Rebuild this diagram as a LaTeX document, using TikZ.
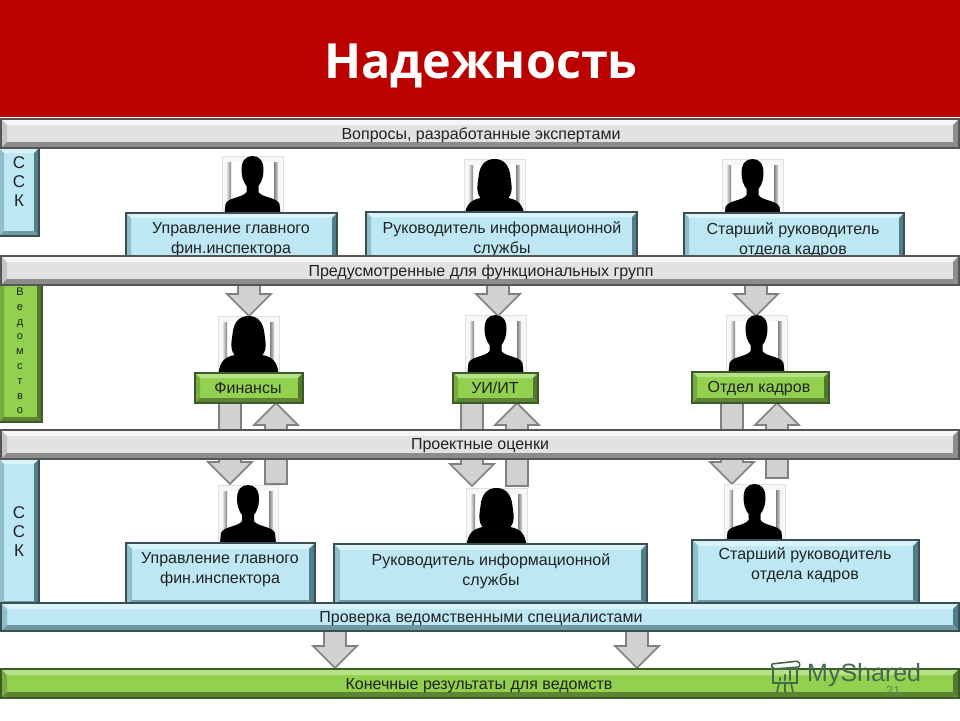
\documentclass[tikz,border=0pt]{standalone}
\usepackage{fontspec}
\setmainfont{Liberation Sans}
\newfontfamily\titlefont{Open Sans}
\usetikzlibrary{calc,backgrounds}
% palettes
\definecolor{bluF}{HTML}{BDE8F3}\definecolor{bluT}{HTML}{D9F3F8}\definecolor{bluL}{HTML}{8FBFC9}\definecolor{bluR}{HTML}{4F7F89}\definecolor{bluB}{HTML}{6E98A2}\definecolor{bluE}{HTML}{3B4F52}
\definecolor{gryF}{HTML}{E2E2E2}\definecolor{gryT}{HTML}{F6F6F6}\definecolor{gryL}{HTML}{C4C4C4}\definecolor{gryR}{HTML}{8C8C8C}\definecolor{gryB}{HTML}{8C8C8C}\definecolor{gryE}{HTML}{555555}
\definecolor{grnF}{HTML}{92D050}\definecolor{grnT}{HTML}{B5E286}\definecolor{grnL}{HTML}{78AB40}\definecolor{grnR}{HTML}{53782B}\definecolor{grnB}{HTML}{5E8431}\definecolor{grnE}{HTML}{3A5A2A}
\definecolor{headred}{HTML}{BB0000}
\definecolor{inktext}{HTML}{222222}
\definecolor{wmark}{HTML}{46694A}
\tikzset{
  x=1pt,y=-1pt,
  barlabel/.style={text=inktext,font=\fontsize{16}{18}\selectfont,align=center,inner sep=0pt},
  boxlabel/.style={text=inktext,font=\fontsize{16}{20}\selectfont,align=center,inner sep=0pt},
  sidelabel/.style={text=inktext,font=\fontsize{17}{19}\selectfont,align=center,inner sep=0pt},
  blockarrow/.style={fill=black!18,draw=black!50,line width=1.6pt,line join=miter},
  silh/.style={fill=black,draw=none},
}
% name, x1, y1, x2, y2, palette, strip width
\newcommand\bevbox[7]{%
  \pgfmathsetmacro\bw{#4-#2}\pgfmathsetmacro\bh{#5-#3}%
  \pgfmathsetmacro\bs{#7}%
  \node[draw=#6E,fill=#6F,line width=1.2pt,inner sep=0pt,outer sep=0pt,minimum width=\bw pt,minimum height=\bh pt,anchor=north west] (#1) at (#2,#3) {};
  \coordinate (#1-a) at ($(#1.north west)+(\bs,\bs)$);
  \coordinate (#1-b) at ($(#1.north east)+(-\bs,\bs)$);
  \coordinate (#1-c) at ($(#1.south east)+(-\bs,-\bs)$);
  \coordinate (#1-d) at ($(#1.south west)+(\bs,-\bs)$);
  \fill[#6T] (#1.north west)--(#1.north east)--(#1-b)--(#1-a)--cycle;
  \fill[#6L] (#1.north west)--(#1-a)--(#1-d)--(#1.south west)--cycle;
  \fill[#6R] (#1.north east)--(#1-b)--(#1-c)--(#1.south east)--cycle;
  \fill[#6B] (#1.south west)--(#1-d)--(#1-c)--(#1.south east)--cycle;
  \draw[#6E,line width=1.2pt] (#1.north west) rectangle (#1.south east);
}
% name, x1, y1, x2, y2, 0 male / 1 female
\newcommand\photo[6]{%
  \pgfmathsetmacro\bw{#4-#2}\pgfmathsetmacro\bh{#5-#3}%
  \node[draw=black!12,fill=black!3,line width=0.8pt,inner sep=0pt,outer sep=0pt,minimum width=\bw pt,minimum height=\bh pt,anchor=north west] (#1) at (#2,#3) {};
  \fill[white] ($(#1.north west)+(5,6)$) rectangle ($(#1.south east)+(-5,0)$);
  \fill[left color=black!12,right color=black!50] ($(#1.north west)+(5,6)$) rectangle ($(#1.south west)+(9,0)$);
  \fill[left color=black!50,right color=black!15] ($(#1.north east)+(-9,6)$) rectangle ($(#1.south east)+(-5,0)$);
  \begin{scope}[shift={(#1.north)}]
    \ifnum#6=0
      \fill[silh] (0,0) .. controls (7,0) and (11,5) .. (11,14)
        .. controls (11,21) and (9,26) .. (6,30) -- (6,36)
        .. controls (10,42) and (24,41) .. (27,48) -- (28,58) -- (-28,58) -- (-27,48)
        .. controls (-24,41) and (-10,42) .. (-6,36) -- (-6,30)
        .. controls (-9,26) and (-11,21) .. (-11,14) .. controls (-11,5) and (-7,0) .. (0,0) -- cycle;
    \else
      \fill[silh] (0,0) .. controls (9,0) and (15,6) .. (16,18)
        .. controls (17,27) and (19,32) .. (14,39)
        .. controls (24,41) and (29,46) .. (30,58) -- (-30,58)
        .. controls (-29,46) and (-24,41) .. (-14,39)
        .. controls (-19,32) and (-17,27) .. (-16,18) .. controls (-15,6) and (-9,0) .. (0,0) -- cycle;
    \fi
  \end{scope}
}
% from, to: block arrow between two named points
\newcommand\blockarr[2]{%
  \coordinate (hb) at ($(#2)!22pt!(#1)$);
  \draw[blockarrow] ($(#1)!11pt!90:(#2)$) -- ($(hb)!11pt!90:(#2)$) -- ($(hb)!22pt!90:(#2)$) -- (#2)
    -- ($(hb)!22pt!-90:(#2)$) -- ($(hb)!11pt!-90:(#2)$) -- ($(#1)!11pt!-90:(#2)$) -- cycle;
}
\begin{document}
\begin{tikzpicture}
\useasboundingbox (0,0) rectangle (960,720);
\fill[headred] (0,0) rectangle (960,117);
\node[text=white,font=\titlefont\bfseries\fontsize{48.5}{50}\selectfont,inner sep=0pt] (title) at (481,66) {Надежность};

% photos
\photo{pa}{222}{156}{283}{214}{0}
\photo{pb}{464}{159}{525}{213}{1}
\photo{pc}{722}{159}{783}{214}{0}
\photo{pd}{218}{316}{279}{374}{1}
\photo{pe}{465}{315}{526}{374}{0}
\photo{pf}{726}{315}{787}{373}{0}
\photo{pg}{218}{485}{278}{544}{0}
\photo{ph}{466}{488}{527}{545}{1}
\photo{pi}{724}{484}{785}{541}{0}

% upper boxes
\bevbox{ba}{126}{213}{337}{262}{blu}{5}
\bevbox{bb}{366}{212}{637}{262}{blu}{5}
\bevbox{bc}{684}{213}{904}{262}{blu}{5}
\node[boxlabel] (ta) at (231,240) {Управление главного\\фин.инспектора};
\node[boxlabel] (tb) at (502,239) {Руководитель информационной\\службы};
\node[boxlabel] (tc) at (793,240) {Старший руководитель\\отдела кадров};

% side boxes
\bevbox{sa}{-1}{148}{39}{236}{blu}{5}
\node[sidelabel] (sat) at (19,182) {С\\С\\К};
\bevbox{sb}{-1}{280}{42}{422}{grn}{5}
\node[text=inktext,font=\fontsize{11}{14.8}\selectfont,align=center,inner sep=0pt] (sbt) at (20,351) {В\\е\\д\\о\\м\\с\\т\\в\\о};
\bevbox{sc}{-1}{459}{39}{606}{blu}{5}
\node[sidelabel] (sct) at (19,532) {С\\С\\К};

% green boxes
\bevbox{ga}{195}{373}{303}{403}{grn}{5}
\bevbox{gb}{453}{373}{538}{403}{grn}{5}
\bevbox{gc}{692}{372}{829}{403}{grn}{5}
\node[barlabel] (gat) at (248,388) {Финансы};
\node[barlabel] (gbt) at (495,388) {УИ/ИТ};
\node[barlabel] (gct) at (759,389) {Отдел кадров};

% lower boxes
\bevbox{bd}{126}{543}{315}{606}{blu}{6}
\bevbox{be}{334}{544}{647}{606}{blu}{6}
\bevbox{bf}{692}{540}{919}{606}{blu}{6}
\node[boxlabel] (td) at (220,570) {Управление главного\\фин.инспектора};
\node[boxlabel] (te) at (491,571) {Руководитель информационной\\службы};
\node[boxlabel] (tf) at (805,565) {Старший руководитель\\отдела кадров};

% bars
\bevbox{r1}{1}{119}{959}{148}{gry}{6}
\bevbox{r2}{1}{256}{959}{285}{gry}{6}
\bevbox{r3}{1}{430}{959}{459}{gry}{6}
\bevbox{r4}{1}{603}{959}{631}{blu}{6}
\bevbox{r5}{1}{669}{959}{698}{grn}{6}
\node[barlabel] (r1t) at (481,135) {Вопросы, разработанные экспертами};
\node[barlabel] (r2t) at (481,272) {Предусмотренные для функциональных групп};
\node[barlabel] (r3t) at (480,446) {Проектные оценки};
\node[barlabel] (r4t) at (481,619) {Проверка ведомственными специалистами};
\node[barlabel] (r5t) at (479,686) {Конечные результаты для ведомств};

% block arrows (beneath the boxes and bars)
\begin{scope}[on background layer]
  \coordinate (a1s) at (249,285);\coordinate (a1e) at (249,316);
  \coordinate (a2s) at (498,285);\coordinate (a2e) at (498,316);
  \coordinate (a3s) at (756,285);\coordinate (a3e) at (756,316);
  \coordinate (d1s) at (230,403);\coordinate (d1e) at (230,484);
  \coordinate (u1s) at (276,484);\coordinate (u1e) at (276,403);
  \coordinate (d2s) at (472,403);\coordinate (d2e) at (472,486);
  \coordinate (u2s) at (517,486);\coordinate (u2e) at (517,403);
  \coordinate (d3s) at (732,403);\coordinate (d3e) at (732,484);
  \coordinate (u3s) at (777,478);\coordinate (u3e) at (777,403);
  \coordinate (e1s) at (335,631);\coordinate (e1e) at (335,668);
  \coordinate (e2s) at (637,631);\coordinate (e2e) at (637,668);
  \blockarr{a1s}{a1e}\blockarr{a2s}{a2e}\blockarr{a3s}{a3e}
  \blockarr{d1s}{d1e}\blockarr{u1s}{u1e}
  \blockarr{d2s}{d2e}\blockarr{u2s}{u2e}
  \blockarr{d3s}{d3e}\blockarr{u3s}{u3e}
  \blockarr{e1s}{e1e}\blockarr{e2s}{e2e}
\end{scope}

% watermark
\begin{scope}[draw=wmark,line width=1.6pt,line cap=round]
  \draw[rounded corners=2pt] (771,664) -- (799,661) -- (800,667) -- (773,669) -- cycle;
  \draw (773,669) rectangle (797,683);
  \draw (777,692) -- (779,683) (785,692) -- (785,683) (793,692) -- (791,683);
  \draw[line width=2.2pt] (780,680) -- (780,678) (785,680) -- (785,675) (790,680) -- (790,671);
\end{scope}
\node[text=wmark,font=\fontsize{25}{26}\selectfont,inner sep=0pt,anchor=west] (wm) at (807,675) {MyShared};
\node[text=wmark!70!grnF,font=\fontsize{13}{14}\selectfont,inner sep=0pt] (pgnum) at (893,691) {21};
\end{tikzpicture}
\end{document}
